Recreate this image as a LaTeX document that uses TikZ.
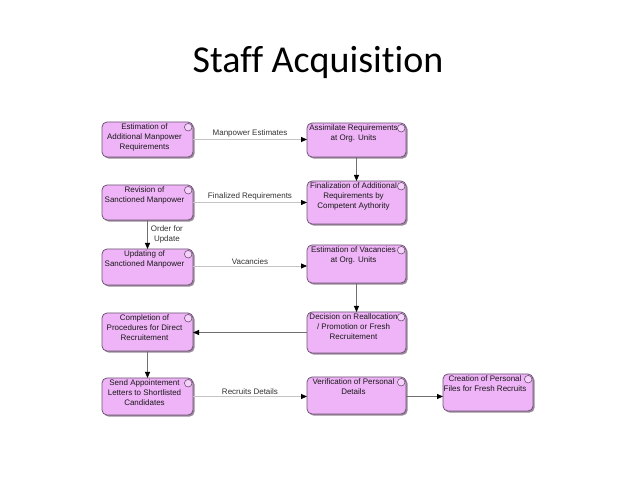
\documentclass[tikz,border=0pt]{standalone}
\usepackage{fontspec}
\setmainfont{Liberation Sans}
\newfontfamily\arialf{Liberation Sans}
\newfontfamily\carlitof[Ligatures={NoCommon}]{Carlito}
\usetikzlibrary{arrows.meta}
\definecolor{fillc}{HTML}{EFB4F7}
\definecolor{bordc}{HTML}{6E5474}
\definecolor{shadowc}{HTML}{9A8A9C}
\definecolor{lightln}{HTML}{C4C4C4}
\definecolor{darkln}{HTML}{707070}
\tikzset{
  box/.style={draw=bordc, fill=fillc, rounded corners=5pt, line width=0.8pt, inner sep=0pt, outer sep=0pt},
  txt/.style={font=\arialf\fontsize{8}{9.6}\selectfont, align=center, inner sep=0pt, text=black!90},
  lbl/.style={font=\arialf\fontsize{8}{9.6}\selectfont, align=center, inner sep=1pt, text=black!80},
  circc/.style={draw=bordc, fill=fillc!60!white, line width=0.6pt},
  conn/.style={line width=0.8pt, -{Triangle[length=6pt,width=5pt,color=black]}},
  lconn/.style={conn, draw=lightln},
  dconn/.style={conn, draw=darkln},
}
\newcommand\mybox[6]{%
  \fill[shadowc, rounded corners=5pt] (#2+1.6,#3+1.6) rectangle (#4+1.6,#5+1.6);
  \node[box, minimum width=#4-#2, minimum height=#5-#3] (#1) at ({(#2+#4)/2},{(#3+#5)/2}) {};
  \draw[circc] (#4-4.8,#3+5.2) circle (3.8pt);
  \node[txt, anchor=north] (#1t) at ({(#2+#4)/2-3},#3+2) {#6};
}
\begin{document}
\begin{tikzpicture}[x=1pt,y=-1pt]
\useasboundingbox (0,0) rectangle (638,478);
\fill[white] (0,0) rectangle (638,478);
\node[font=\carlitof\fontsize{38}{40}\selectfont, anchor=base, inner sep=0pt] (title) at (318,73) {Staff Acquisition};

\mybox{b1}{102}{122}{193}{157}{Estimation of\\Additional Manpower\\Requirements}
\mybox{b2}{102}{185}{193}{220}{Revision of\\Sanctioned Manpower}
\mybox{b3}{102}{249}{193}{285}{Updating of\\Sanctioned Manpower}
\mybox{b4}{102}{313}{193}{351}{Completion of\\Procedures for Direct\\Recruitement}
\mybox{b5}{102}{378}{193}{415}{Send Appointement\\Letters to Shortlisted\\Candidates}
\mybox{bA}{307}{123}{406}{157}{Assimilate Requirements\\at Org. Units}
\mybox{bB}{307}{181}{406}{224}{Finalization of Additional\\Requirements by\\Competent Aythority}
\mybox{bC}{307}{245}{406}{283}{Estimation of Vacancies\\at Org. Units}
\mybox{bD}{307}{312}{406}{353}{Decision on Reallocation\\/ Promotion or Fresh\\Recruitement}
\mybox{bE}{307}{377}{406}{414}{Verification of Personal\\Details}
\mybox{bF}{443}{374}{533}{411}{Creation of Personal\\Files for Fresh Recruits}

\draw[lconn] (b1.east) -- node[lbl, above=0.5pt] {Manpower Estimates} (b1.east -| bA.west);
\draw[lconn] (b2.east) -- node[lbl, above=0.5pt] {Finalized Requirements} (b2.east -| bB.west);
\draw[lconn] ([yshift=1pt]b3.east) -- node[lbl, above=0.5pt] {Vacancies} ([yshift=1pt]b3.east -| bC.west);
\draw[lconn] (b5.east) -- node[lbl, above=0.5pt] {Recruits Details} (b5.east -| bE.west);
\draw[dconn] (b2.south) -- node[lbl, right=2pt] {Order for\\Update} (b3.north);
\draw[dconn] (bA.south) -- (bB.north);
\draw[dconn] (bC.south) -- (bD.north);
\draw[dconn] (bD.west) -- (bD.west -| b4.east);
\draw[dconn] (b4.south) -- (b5.north);
\draw[dconn] ([yshift=-1pt]bE.east) -- ([yshift=-1pt]bE.east -| bF.west);
\end{tikzpicture}
\end{document}
